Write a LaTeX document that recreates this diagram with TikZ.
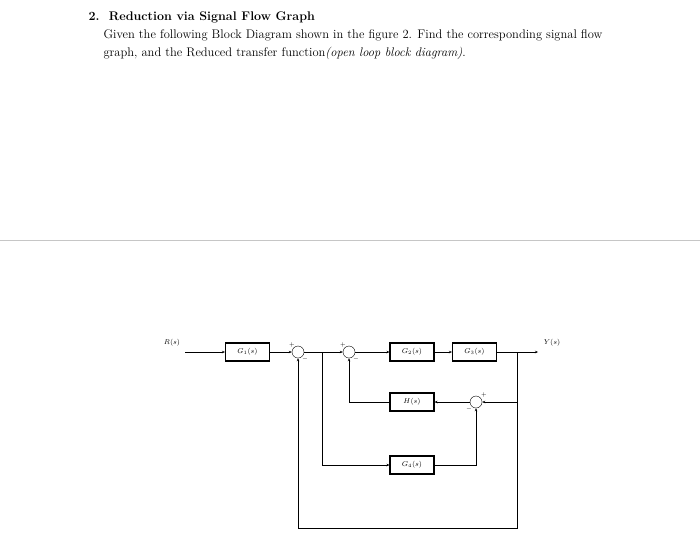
\documentclass[tikz,border=0pt]{standalone}
\usetikzlibrary{arrows.meta}
\begin{document}
\begin{tikzpicture}[x=1pt,y=-1pt,
  blk/.style={draw,line width=1.1pt,minimum width=44pt,minimum height=18pt,inner sep=0pt,font=\fontsize{7}{8}\selectfont},
  sumc/.style={draw,circle,minimum size=12pt,inner sep=0pt,line width=0.4pt},
  sg/.style={font=\fontsize{6}{6}\selectfont,inner sep=0.5pt},
  ln/.style={line width=0.5pt},
  ar/.style={ln,-{Stealth[length=3pt,width=2.5pt]}}]
\useasboundingbox (0,0) rectangle (700,539);
\node[anchor=base west,font=\fontsize{12.5}{15}\selectfont\bfseries] (t1) at (85,20) {2.\ \ Reduction via Signal Flow Graph};
\node[anchor=base west,font=\fontsize{12.5}{15}\selectfont] (t2) at (100,38) {Given the following Block Diagram shown in the figure 2. Find the corresponding signal flow};
\node[anchor=base west,font=\fontsize{12.5}{15}\selectfont] (t3) at (100,56) {graph, and the Reduced transfer function\textit{(open loop block diagram)}.};
\draw[gray!45,line width=0.8pt] (0,240) -- (700,240);

\node[font=\fontsize{7}{8}\selectfont] (R) at (172,343) {$R(s)$};
\coordinate (in) at (185,352);
\node[blk] (G1) at (247.5,352) {$G_1(s)$};
\node[sumc] (S1) at (298,352) {};
\coordinate (b1) at (322,352);
\node[sumc] (S2) at (349,352) {};
\node[blk] (G2) at (412,352) {$G_2(s)$};
\node[blk] (G3) at (474.5,352) {$G_3(s)$};
\coordinate (b2) at (517,352);
\coordinate (out) at (538,352);
\node[font=\fontsize{7}{8}\selectfont] (Y) at (552,343) {$Y(s)$};
\node[blk] (H) at (412,402) {$H(s)$};
\node[sumc] (S3) at (476,402) {};
\node[blk] (G4) at (412,465) {$G_4(s)$};
\coordinate (bot) at (517,528);

\draw[ar] (in) -- (G1);
\draw[ar] (G1) -- (S1);
\draw[ar] (S1) -- (S2);
\draw[ar] (S2) -- (G2);
\draw[ar] (G2) -- (G3);
\draw[ar] (G3) -- (out);
\draw[ar] (b2) |- (S3);
\draw[ar] (S3) -- (H);
\draw[ar] (H) -| (S2);
\draw[ar] (b1) |- (G4);
\draw[ar] (G4) -| (S3);
\draw[ar] (b2) -- (bot) -| (S1);

\node[sg] at (292,345) {$+$};
\node[sg] at (305,359) {$-$};
\node[sg] at (343,345) {$+$};
\node[sg] at (356,359) {$-$};
\node[sg] at (484,395) {$+$};
\node[sg] at (469,409) {$-$};
\end{tikzpicture}
\end{document}
